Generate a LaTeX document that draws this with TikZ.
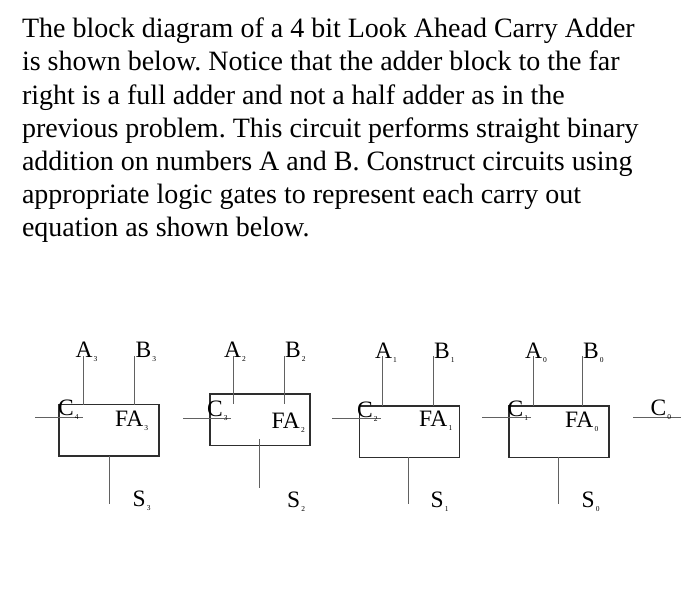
\documentclass[tikz,border=0pt]{standalone}
\usepackage{fontspec}
\setmainfont{Liberation Serif}
\frenchspacing
\tikzset{
  fabox/.style={draw=black!82,line width=1.5pt,minimum width=100pt,minimum height=51.5pt,inner sep=0pt,outer sep=0pt},
  wire/.style={draw=black!62,line width=1pt},
  lab/.style={anchor=base west,inner sep=0pt,outer sep=0pt,font=\fontsize{23.5}{23.5}\selectfont},
  para/.style={anchor=base west,inner sep=0pt,outer sep=0pt,font=\fontsize{28}{28}\selectfont},
}
\newcommand{\sbs}[2]{#1\hspace{1.2pt}\raisebox{-4pt}{\fontsize{7.5}{7.5}\selectfont #2}}
\begin{document}
\begin{tikzpicture}[x=1pt,y=-1pt]
\useasboundingbox (0,0) rectangle (700,601);
\fill[white] (0,0) rectangle (700,601);
% paragraph
\node[para] (t1) at (22,37.5) {The block diagram of a 4 bit Look Ahead Carry Adder};
\node[para] (t2) at (22,71) {is shown below. Notice that the adder block to the far};
\node[para] (t3) at (22,104.3) {right is a full adder and not a half adder as in the};
\node[para] (t4) at (22,137.5) {previous problem. This circuit performs straight binary};
\node[para] (t5) at (22,170.5) {addition on numbers A and B. Construct circuits using};
\node[para] (t6) at (22,203.5) {appropriate logic gates to represent each carry out};
\node[para] (t7) at (22,236.5) {equation as shown below.};
% boxes
\node[fabox] (b3) at (109,430.3) {};
\node[fabox] (b2) at (260,419.7) {};
\node[fabox] (b1) at (409.5,431.5) {};
\node[fabox] (b0) at (558.8,431.5) {};
% free ends
\coordinate (a3t) at (83,356);   \coordinate (b3t) at (134.5,356);
\coordinate (a2t) at (233,356);  \coordinate (b2t) at (284,356);
\coordinate (a1t) at (382.5,356);\coordinate (b1t) at (433,356);
\coordinate (a0t) at (533,356);  \coordinate (b0t) at (582.5,356);
\coordinate (a2e) at (233,404);  \coordinate (b2e) at (284,404);
\coordinate (c4l) at (35,417);   \coordinate (c4r) at (83,417);
\coordinate (c3l) at (183,418.5);\coordinate (c3r) at (231,418.5);
\coordinate (c2l) at (332,418.5);\coordinate (c2r) at (381,418.5);
\coordinate (c1l) at (482,417);  \coordinate (c1r) at (531,417);
\coordinate (c0l) at (633,417);  \coordinate (c0r) at (681,417);
\coordinate (s3s) at (109,456);  \coordinate (s3e) at (109,504);
\coordinate (s2s) at (259.5,439);\coordinate (s2e) at (259.5,488);
\coordinate (s1s) at (408,457);  \coordinate (s1e) at (408,504);
\coordinate (s0s) at (558.5,457);\coordinate (s0e) at (558.5,504);
% connectors
\draw[wire] (a3t) -- (a3t |- b3.north);
\draw[wire] (b3t) -- (b3t |- b3.north);
\draw[wire] (a2t) -- (a2e);
\draw[wire] (b2t) -- (b2e);
\draw[wire] (a1t) -- (a1t |- b1.north);
\draw[wire] (b1t) -- (b1t |- b1.north);
\draw[wire] (a0t) -- (a0t |- b0.north);
\draw[wire] (b0t) -- (b0t |- b0.north);
\draw[wire] (c4l) -- (c4r);
\draw[wire] (c3l) -- (c3r);
\draw[wire] (c2l) -- (c2r);
\draw[wire] (c1l) -- (c1r);
\draw[wire] (c0l) -- (c0r);
\draw[wire] (s3s) -- (s3e);
\draw[wire] (s2s) -- (s2e);
\draw[wire] (s1s) -- (s1e);
\draw[wire] (s0s) -- (s0e);
% labels
\node[lab] (la3) at (75.5,357) {\sbs{A}{3}};
\node[lab] (lb3) at (135.5,357) {\sbs{B}{3}};
\node[lab] (lc4) at (58,415) {\sbs{C}{4}};
\node[lab] (lf3) at (115,426) {\sbs{FA}{3}};
\node[lab] (ls3) at (132.6,506) {\sbs{S}{3}};
\node[lab] (la2) at (224,357) {\sbs{A}{2}};
\node[lab] (lb2) at (285,357) {\sbs{B}{2}};
\node[lab] (lc3) at (207,416) {\sbs{C}{3}};
\node[lab] (lf2) at (271.5,428.5) {\sbs{FA}{2}};
\node[lab] (ls2) at (287,507) {\sbs{S}{2}};
\node[lab] (la1) at (375,358) {\sbs{A}{1}};
\node[lab] (lb1) at (434,358) {\sbs{B}{1}};
\node[lab] (lc2) at (357,417) {\sbs{C}{2}};
\node[lab] (lf1) at (419,426.7) {\sbs{FA}{1}};
\node[lab] (ls1) at (430.5,507) {\sbs{S}{1}};
\node[lab] (la0) at (525,358) {\sbs{A}{0}};
\node[lab] (lb0) at (583,358) {\sbs{B}{0}};
\node[lab] (lc1) at (507.5,416) {\sbs{C}{1}};
\node[lab] (lf0) at (565,427) {\sbs{FA}{0}};
\node[lab] (ls0) at (581.5,507) {\sbs{S}{0}};
\node[lab] (lc0) at (650.5,415) {\sbs{C}{0}};
\end{tikzpicture}
\end{document}
